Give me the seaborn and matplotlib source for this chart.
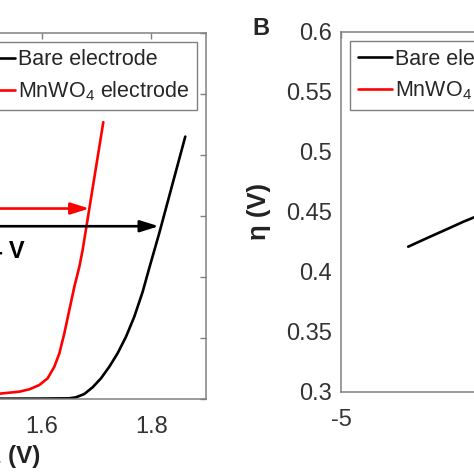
import matplotlib
matplotlib.use('Agg')
import matplotlib.pyplot as plt
from matplotlib.lines import Line2D
from matplotlib.ticker import FuncFormatter
import seaborn as sns

# Panel A: polarisation curves (potential in V, current density in mA cm-2)
bare_v = [1.50, 1.60, 1.6502, 1.6625, 1.6776, 1.6928, 1.7081, 1.7233, 1.7384,
          1.7538, 1.7689, 1.7841, 1.7963, 1.8146, 1.8621]
bare_j = [0.05, 0.07, 0.11, 0.28, 0.82, 1.92, 3.39, 5.29, 7.48,
          10.20, 13.47, 17.52, 21.45, 27.18, 42.98]
mnwo4_v = [1.51, 1.5224, 1.5589, 1.5772, 1.5954, 1.6106, 1.6228, 1.6320, 1.6411,
           1.6502, 1.6594, 1.6685, 1.6745, 1.6868, 1.7123]
mnwo4_j = [0.80, 0.87, 1.20, 1.59, 2.29, 3.39, 5.29, 7.48, 10.76,
           14.57, 18.39, 21.66, 24.39, 31.2, 45.35]

# horizontal arrows (red, black): level, start, tip
arrow_j = [31.2, 28.3]
arrow_start_v = [1.40, 1.40]
arrow_tip_v = [1.6868, 1.8137]
gap_text = "0.124 V"

a_xticks = [1.2, 1.4, 1.6, 1.8]
a_yticks = [0, 10, 20, 30, 40, 50, 60]

# Panel B: Tafel plot
tafel_logj = [-4.649, -4.535, -4.448, -4.361, -4.309, -4.26]
tafel_eta = [0.4211, 0.4294, 0.4356, 0.4419, 0.4453, 0.4483]

b_xticks = [-5, -4, -3]
b_yticks = [0.3, 0.35, 0.4, 0.45, 0.5, 0.55, 0.6]

labels = ['Bare electrode', 'MnWO$_4$ electrode']
colors = ['black', '#ff0000']

sns.set_theme(style='white')
plt.rcParams['font.family'] = ['Liberation Sans', 'DejaVu Sans']
plt.rcParams['mathtext.fontset'] = 'custom'
plt.rcParams['mathtext.rm'] = 'Liberation Sans'
plt.rcParams['mathtext.it'] = 'Liberation Sans:italic'
plt.rcParams['mathtext.bf'] = 'Liberation Sans:bold'
plt.rcParams['axes.unicode_minus'] = False
plt.rcParams['lines.solid_joinstyle'] = 'round'

spine_col = '#808080'
tick_col = '#333333'
fmt = FuncFormatter(lambda v, p: f'{v:g}')

fig = plt.figure(figsize=(4.74, 4.74), dpi=100)
W = H = 474.0


def px_axes(left, top, right, bottom):
    return fig.add_axes([left / W, 1 - bottom / H, (right - left) / W, (bottom - top) / H])


def style_axes(ax):
    for s in ax.spines.values():
        s.set_color(spine_col)
        s.set_linewidth(1.1)
        s.set_visible(True)
    ax.tick_params(direction='in', top=True, right=True, length=4, width=1,
                   color=spine_col, labelcolor=tick_col, labelsize=17)
    ax.tick_params(axis='x', pad=12)
    ax.tick_params(axis='y', pad=6.5)
    ax.xaxis.set_major_formatter(fmt)
    ax.yaxis.set_major_formatter(fmt)


def add_legend(ax, handles, loc):
    leg = ax.legend(handles, labels, loc=loc, fontsize=15.5, frameon=True,
                    fancybox=False, framealpha=1, edgecolor=spine_col,
                    borderpad=0.35, borderaxespad=0.42, handlelength=1.6,
                    handletextpad=0.15, labelspacing=0.42)
    leg.get_frame().set_linewidth(1.0)
    return leg


# ---- panel A ----
axA = px_axes(-177, 32.7, 206, 399)
sns.lineplot(x=bare_v, y=bare_j, ax=axA, color=colors[0], lw=1.9,
             sort=False, estimator=None)
sns.lineplot(x=mnwo4_v, y=mnwo4_j, ax=axA, color=colors[1], lw=1.9,
             sort=False, estimator=None)
for jv, x0, x1, c in zip(arrow_j, arrow_start_v, arrow_tip_v, [colors[1], colors[0]]):
    axA.annotate('', xy=(x1, jv), xytext=(x0, jv),
                 arrowprops=dict(arrowstyle='-|>,head_length=0.8,head_width=0.25',
                                 color=c, lw=1.9, mutation_scale=14,
                                 shrinkA=0, shrinkB=0))
axA.text(1.568, 24.1, gap_text, ha='right', va='center', fontsize=17,
         fontweight='bold', color='black')
axA.set_xlim(1.2, 1.9)
axA.set_ylim(0, 60)
axA.set_xticks(a_xticks)
axA.set_yticks(a_yticks)
style_axes(axA)
axA.set_xlabel('E (V)', fontsize=17.5, fontweight='bold', color='#222222')
axA.xaxis.set_label_coords((40 + 177) / 383.0, -(456 - 399) / 366.3)
axA.xaxis.label.set_ha('right')
axA.xaxis.label.set_va('center')
axA.set_ylabel('j (mA cm$^{-2}$)', fontsize=17.5, fontweight='bold')
add_legend(axA, axA.get_lines()[:2], 'upper right')

# ---- panel B ----
axB = px_axes(341, 32, 724, 392)
sns.lineplot(x=tafel_logj, y=tafel_eta, ax=axB, color=colors[0], lw=1.9,
             sort=False, estimator=None)
axB.set_xlim(-5, -3)
axB.set_ylim(0.3, 0.6)
axB.set_xticks(b_xticks)
axB.set_yticks(b_yticks)
style_axes(axB)
axB.set_xlabel('log j', fontsize=17.5, fontweight='bold')
axB.set_ylabel('η (V)', fontsize=18.5, fontweight='bold', color='#222222')
axB.yaxis.set_label_coords(-(341 - 271) / 383.0, 0.5)
axB.yaxis.label.set_va('bottom')
add_legend(axB, [Line2D([], [], color=c, lw=1.9) for c in colors], 'upper left')

fig.text(252 / W, 1 - 35 / H, 'B', fontsize=17, fontweight='bold',
         ha='left', va='baseline')

fig.savefig('out.png', dpi=100)
